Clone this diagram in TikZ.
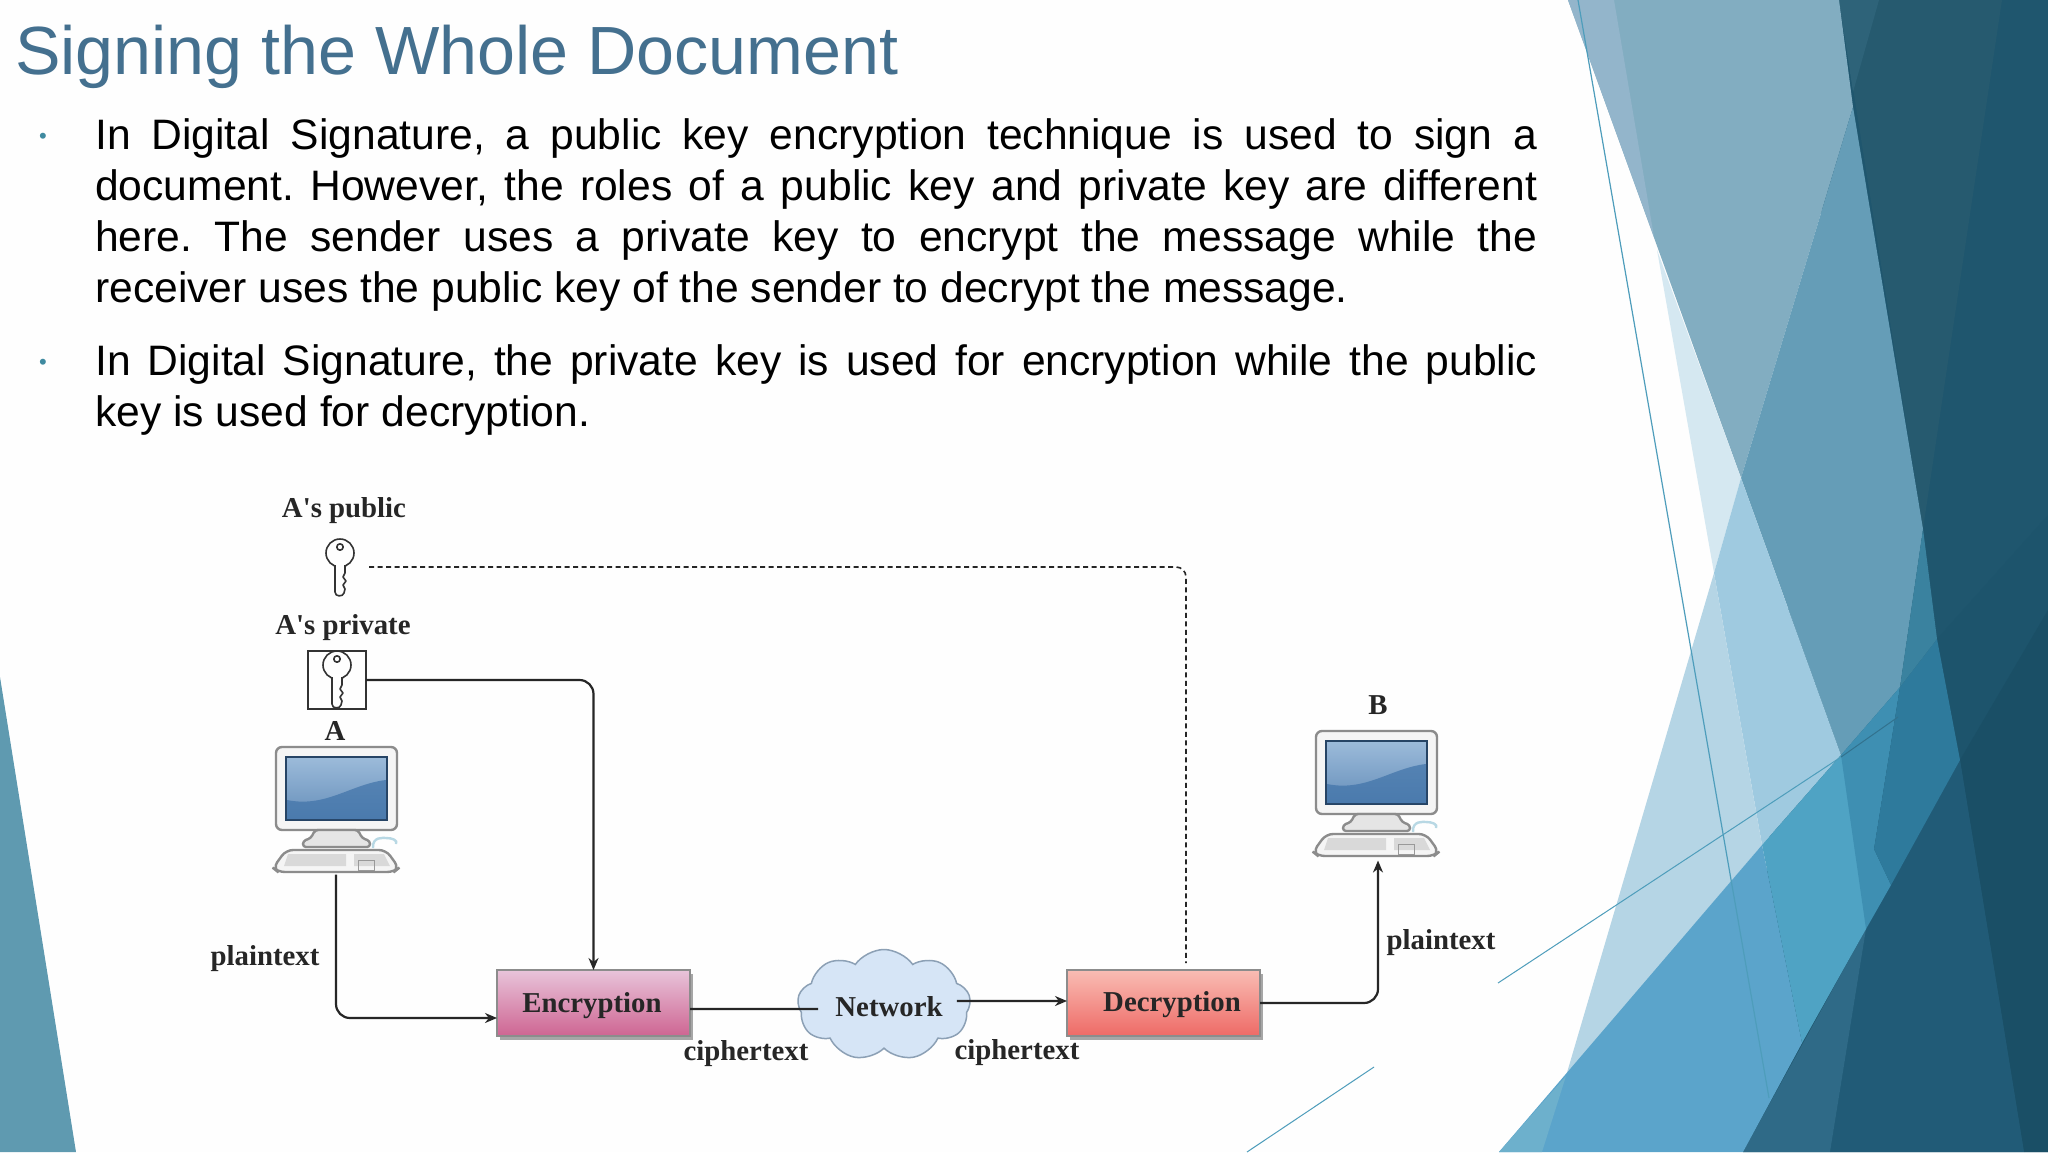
\documentclass[tikz,border=0pt]{standalone}
\usepackage{fontspec}
\setmainfont{Liberation Sans}
\newfontfamily\labelfont{Liberation Serif}
\usetikzlibrary{calc,shadows,arrows.meta,shapes.symbols}
\definecolor{pagewhite}{HTML}{FEFEFE}
\definecolor{titleblue}{HTML}{44708F}
\definecolor{bulletteal}{HTML}{3F8AA0}
\definecolor{thinblue}{HTML}{4E9DBB}
\definecolor{screentop}{HTML}{9CBBDA}
\definecolor{screenlow}{HTML}{3F72A8}
\definecolor{deepbase}{HTML}{1F566E}
\definecolor{deepslate}{HTML}{265A6F}
\definecolor{deepsliver}{HTML}{2E6379}
\definecolor{deepest}{HTML}{1A4F66}
\definecolor{deepmid}{HTML}{1D546C}
\definecolor{deeplow}{HTML}{215B77}
\definecolor{deepsoft}{HTML}{2F6A87}
\definecolor{greyblue}{HTML}{82ADC1}
\definecolor{greysliver}{HTML}{93B5CB}
\definecolor{midblue}{HTML}{659DB7}
\definecolor{paleblue}{HTML}{D5E8F1}
\definecolor{skyblue}{HTML}{9FCAE0}
\definecolor{softblue}{HTML}{B5D5E5}
\definecolor{bandleft}{HTML}{5BA4CB}
\definecolor{bandright}{HTML}{4FA3C4}
\definecolor{bandsliver}{HTML}{6DB0CC}
\definecolor{tealmid}{HTML}{3E8FB2}
\definecolor{tealdark}{HTML}{2E7A9C}
\definecolor{tealtip}{HTML}{3A829F}
\definecolor{cornerteal}{HTML}{5F9AB0}
\definecolor{encrtop}{HTML}{E8C4DA}
\definecolor{encrlow}{HTML}{CE6592}
\definecolor{decrtop}{HTML}{F9BDB4}
\definecolor{decrlow}{HTML}{EE6A66}
\definecolor{cloudfill}{HTML}{D6E5F6}
\definecolor{cloudline}{HTML}{8CA0B5}
\tikzset{
  headline/.style={anchor=west,inner sep=0pt,text=titleblue,font=\fontsize{68.2}{72}\selectfont},
  bodytext/.style={anchor=north west,inner sep=0pt,text width=1442pt,align=justify,font=\frenchspacing\fontsize{42.6}{51}\selectfont},
  bulletmark/.style={text=bulletteal,inner sep=0pt,font=\fontsize{22}{22}\selectfont},
  diagtext/.style={inner sep=0pt,font=\labelfont\bfseries\fontsize{28.8}{30}\selectfont,text=black!85},
  ghost/.style={inner sep=0pt,outer sep=0pt},
  stagebox/.style={draw=black!45,line width=1.5pt,minimum width=193pt,minimum height=66pt,inner sep=0pt,outer sep=0pt,
    drop shadow={shadow xshift=3pt,shadow yshift=-4pt,fill=black!35,opacity=1}},
  flow/.style={line width=2.2pt,draw=black!85,-{Stealth[length=12pt,width=10pt]}},
  plainflow/.style={line width=2.2pt,draw=black!85},
  keyline/.style={line width=1.6pt,draw=black!80,line join=round},
  pics/computer/.style={code={
    \draw[line width=2.4pt,draw=black!45,fill=black!4,rounded corners=6] (-60,-63) rectangle (61,20);
    \draw[line width=1.5pt,draw=screenlow!60!black,top color=screentop,bottom color=screenlow!80!white] (-50,-53) rectangle (51,10);
    \fill[screenlow,opacity=0.7] (-49,-10) .. controls (-10,-2) and (15,-26) .. (50,-30) -- (50,9) -- (-49,9) -- cycle;
    \draw[line width=2.4pt,draw=black!45,fill=black!10,rounded corners=3] (-21,20) -- (-25,28) -- (-33,31) -- (-33,37) -- (34,37) -- (34,31) -- (26,28) -- (22,20) -- cycle;
    \draw[line width=2.4pt,draw=thinblue!40!white] (37,38) .. controls (36,26) and (48,28) .. (50,28) .. controls (56,28) and (62,30) .. (60,34);
    \draw[line width=2.4pt,draw=black!45,fill=black!4,rounded corners=7] (-50,40) -- (50,40) -- (63,58) -- (58,62) -- (-58,62) -- (-63,58) -- cycle;
    \fill[black!15] (-48,44) -- (10,44) -- (10,56) -- (-52,56) -- cycle;
    \fill[black!15] (18,44) -- (48,44) -- (54,56) -- (18,56) -- cycle;
    \draw[line width=1pt,draw=black!40] (22,50) rectangle (38,60);
  }},
  pics/skeleton/.style={code={
    \draw[keyline] (0,0) circle[radius=14];
    \draw[keyline] (0,-6) circle[radius=3.2];
    \fill[white] (-5,9) rectangle (5,16);
    \draw[keyline] (-5,12) -- (-5,39) .. controls (-5,44) and (3,44) .. (4,40) -- (5,36) -- (3,32) -- (6,28) -- (3,24) -- (5,20) -- (5,12);
  }},
}
\begin{document}
\begin{tikzpicture}[x=1pt,y=-1pt]
\useasboundingbox (0,0) rectangle (2048,1152);
\fill[pagewhite] (0,0) rectangle (2048,1152);
% facets on the right
\fill[deepbase] (1839,0) -- (2048,0) -- (2048,1152) -- (1743,1152) -- cycle;
\fill[deepslate] (1839,0) -- (2002,0) -- (1923,529) -- cycle;
\fill[deepsliver] (1839,0) -- (1879,0) -- (1853,92) -- cycle;
\fill[deepmid] (1937,639) -- (2048,515) -- (2048,610) -- (1960,760) -- cycle;
\fill[deepest] (1960,760) -- (2048,610) -- (2048,1152) -- (2024,1152) -- cycle;
\fill[deeplow] (1960,760) -- (2024,1152) -- (1830,1152) -- (1866,929) -- cycle;
\fill[deepsoft] (1830,1152) -- (1866,929) -- (1743,1152) -- cycle;
\fill[greyblue] (1568,0) -- (1839,0) -- (1853,107) -- (1741,478) -- cycle;
\fill[greysliver] (1568,0) -- (1614,0) -- (1654,237) -- cycle;
\fill[midblue] (1853,107) -- (1923,529) -- (1900,687) -- (1841,755) -- (1741,478) -- cycle;
\fill[paleblue] (1657,250) -- (1741,478) -- (1714,573) -- cycle;
\fill[skyblue] (1741,478) -- (1841,755) -- (1762,845) -- (1714,573) -- cycle;
\fill[softblue] (1714,573) -- (1762,845) -- (1566,1076) -- cycle;
\fill[bandleft] (1499,1152) -- (1762,845) -- (1802,1043) -- (1743,1152) -- cycle;
\fill[bandright] (1762,845) -- (1841,755) -- (1874,849) -- (1866,929) -- (1802,1043) -- cycle;
\fill[bandsliver] (1499,1152) -- (1566,1076) -- (1542,1152) -- cycle;
\fill[tealmid] (1841,755) -- (1900,687) -- (1874,849) -- (1891,885) -- (1866,929) -- cycle;
\fill[tealdark] (1900,687) -- (1937,639) -- (1960,760) -- (1891,885) -- (1874,849) -- cycle;
\fill[tealtip] (1923,529) -- (1937,639) -- (1900,687) -- cycle;
\fill[cornerteal] (0,677) -- (76,1152) -- (0,1152) -- cycle;
\draw[thinblue,line width=1.2pt] (1578,0) -- (1769,1098);
\draw[thinblue,line width=1pt] (1498,983) -- (1841,757);
\draw[tealmid!80!black,line width=1pt] (1841,757) -- (1898,717);
\draw[thinblue,line width=1pt] (1374,1067) -- (1247,1152);
% slide text
\node[headline] (title) at (15,57) {Signing the Whole Document};
\node[bulletmark] (bulletone) at (43,138) {•};
\node[bulletmark] (bullettwo) at (43,364) {•};
\node[bodytext] (bodyone) at (95,118) {In Digital Signature, a public key encryption technique is used to sign a\linebreak document. However, the roles of a public key and private key are different\linebreak here. The sender uses a private key to encrypt the message while the\linebreak receiver uses the public key of the sender to decrypt the message.};
\node[bodytext] (bodytwo) at (95,344) {In Digital Signature, the private key is used for encryption while the public\linebreak key is used for decryption.};
% left side of the figure
\node[diagtext] (publabel) at (344,511) {A's public};
\node[ghost,minimum width=58pt,minimum height=58pt] (pubkey) at (340,567) {};
\pic at (340,553) {skeleton};
\node[diagtext] (privlabel) at (343,628) {A's private};
\node[draw=black!80,line width=1.6pt,ghost,minimum width=58pt,minimum height=58pt] (privbox) at (337,680) {};
\pic at (337,665) {skeleton};
\node[diagtext] (alabel) at (335,731) {A};
\node[ghost,minimum width=126pt,minimum height=125pt] (comA) at (336,810) {};
\pic at (comA.center) {computer};
% right side of the figure
\node[diagtext] (blabel) at (1378,705) {B};
\node[ghost,minimum width=126pt,minimum height=125pt] (comB) at (1376,794) {};
\pic at (comB.center) {computer};
% boxes and cloud
\node[stagebox,top color=encrtop,bottom color=encrlow] (enc) at (593.5,1003) {};
\node[stagebox,top color=decrtop,bottom color=decrlow] (dec) at (1163.5,1003) {};
\node[cloud,cloud puffs=9,cloud puff arc=110,aspect=1.55,draw=cloudline,fill=cloudfill,line width=1.5pt,minimum width=173pt,minimum height=111pt,inner sep=0pt,outer sep=0pt] (net) at (884,1005) {};
\node[diagtext] (enclabel) at (592,1006) {Encryption};
\node[diagtext] (declabel) at (1172,1005) {Decryption};
\node[diagtext] (netlabel) at (889,1007) {Network};
\node[diagtext] (plainA) at (265,959) {plaintext};
\node[diagtext] (plainB) at (1441,943) {plaintext};
\node[diagtext] (cipherA) at (746,1054) {ciphertext};
\node[diagtext] (cipherB) at (1017,1053) {ciphertext};
% connectors
\draw[flow,rounded corners=14,shorten <=2pt] (comA.south) |- ($(enc.west)+(0,15)$);
\draw[flow,rounded corners=14] (privbox.east) -| (enc.north);
\draw[plainflow] ($(enc.east)+(0,6)$) -- ($(net.west)+(20,4)$);
\draw[flow] ($(net.east)+(-13,-4)$) -- ($(dec.west)+(0,-2)$);
\draw[flow,rounded corners=14,shorten >=4pt] (dec.east) -| ($(comB.south)+(2,0)$);
\draw[plainflow,line width=1.6pt,dash pattern=on 5pt off 3.5pt,rounded corners=10,shorten >=7pt] (pubkey.east) -| ($(dec.north)+(22.5,0)$);
\end{tikzpicture}
\end{document}
